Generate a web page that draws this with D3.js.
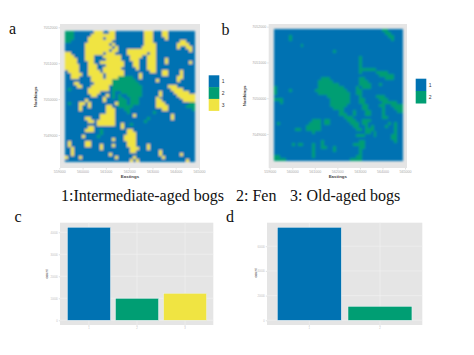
<!DOCTYPE html>
<html>
<head>
<meta charset="utf-8">
<script src="https://cdnjs.cloudflare.com/ajax/libs/d3/7.8.5/d3.min.js"></script>
<style>
  html, body { margin: 0; padding: 0; background: #fff; }
  svg { display: block; }
  .tick text { font-family: "Liberation Sans", sans-serif; }
</style>
</head>
<body>
<div id="chart"></div>
<script>
const width = 474;
const height = 355;

// classes of each raster cell, top row first (1 = intermediate bog, 2 = fen, 3 = old bog)
const mapARows = [
  "22211111113 33113311111 11111333111 33111111111",
  "22211111133 33333311111 11111333111 33111111111",
  "22211111333 33133311111 11111333111 13111111111",
  "22111111333 33333111111 11111333111 11111133111",
  "11111113333 33331311111 11111333311 11111333311",
  "11111113333 33333131111 11113333311 11111311331",
  "11111113333 33331331113 33333333311 11111111131",
  "33111113333 33133311113 33333313311 11111111111",
  "33311113331 11333333111 33331133311 11111111111",
  "33331113331 11133333111 33311133311 13111111111",
  "33331111331 13333333311 13311133311 13111111131",
  "33333111333 11133333311 13311133311 11111111111",
  "33333111333 11333333111 11311133311 11111111111",
  "13333111333 31333333311 11111113311 33111131111",
  "11333311333 33133333311 11131111111 33111131111",
  "11333111133 33133332222 21131111111 11111331111",
  "11111111133 33333222222 22111111131 11111311111",
  "11133111113 33333222222 22211111111 11111111111",
  "11113311133 33331222222 22221111111 11333111111",
  "12111111333 33331222222 22221111111 11133331111",
  "11111111333 31111211222 22221111113 11113333311",
  "11111111133 11131212112 22221111113 11111333333",
  "11111111111 11311212211 22211111131 11111133333",
  "11111113111 11311112221 22211111133 11111113333",
  "12111331311 11111132221 22211111133 31111111122",
  "11111311311 11133112222 21111111133 33111111222",
  "11111311111 11133311122 11111111111 33111111112",
  "11111111111 11133311112 11111111211 11111111111",
  "11111111111 13333311111 13111111111 11131111111",
  "11111113311 13333311111 11111121111 11131111111",
  "11111111331 33333311111 11111211111 11111111111",
  "11111111111 33333311311 21111111111 11111111111",
  "11111111331 11111111311 11111111111 11111111111",
  "11111113331 12111111113 31111111111 11111111111",
  "11111111111 12111111113 33111111111 11111111111",
  "11111131111 21111111133 33111111111 11111111111",
  "11111111111 11111311133 33111111111 11111111111",
  "13111113311 11111111113 33111111111 11111111111",
  "13111113311 13111311113 33111131111 11111111111",
  "11311111111 13111111111 33311131111 11111111111",
  "11311111111 11111111111 33111111113 11111111111",
  "11311111111 11113111111 11111111113 11111131111",
  "31111311111 11111131111 13111111111 31111111111",
  "11111111111 11111111111 31311111111 11111111311",
];

const mapBRows = [
  "11111111111 11111111111 11111111111 11112211111",
  "11111111111 11111111111 11111111111 11111221111",
  "11111211111 11111111111 11111111111 11111122111",
  "11111211111 11111111111 11111111111 11111112111",
  "11111111111 11111111111 11111111111 11111111111",
  "11111111121 11111111111 11111111111 11111111111",
  "11111111111 11111111111 11111111111 11111111111",
  "11111111111 11111111121 11111111111 11111111111",
  "11111111111 11111111111 11111111111 11111111111",
  "11111111111 11111111111 11111112111 11111111111",
  "11111111111 11111111111 11111112111 11111111111",
  "11111111111 11111111111 11111112111 11111111111",
  "11111111111 11111111111 11111112111 11111111111",
  "11111111111 11111111111 11111112222 22111111111",
  "11111111111 11111111111 11111112111 11222211111",
  "11111111111 11111111111 11111111111 11122222111",
  "11111111111 11111222111 11111112211 11111222111",
  "11111111111 11112222211 11111112221 11111111111",
  "11111111111 11112222222 11111112222 11121111111",
  "21111111111 11112222222 22111121222 11111111111",
  "21111211111 11122222222 22211122111 11111111111",
  "21111111111 11112222222 22221122111 11111111111",
  "11111111111 11111112222 22221112111 11222111111",
  "22211111111 11111111222 22221112211 11122211111",
  "11211111111 11111111222 22221112211 11112222211",
  "11111111111 11111111222 22211111221 11122112222",
  "11111111111 11111111122 22111111221 11112111222",
  "11111111111 11111111111 22111211122 11112111122",
  "11111111111 11111111111 22211211122 11112111111",
  "11111111111 11111111111 11222111111 11112211111",
  "11111111111 11222122111 11122211222 11111111111",
  "12111111111 12222122111 11112221221 11111121211",
  "11111111111 22222111111 11111221121 21111211211",
  "11111112211 22222111111 11111122122 21111111211",
  "11111111111 11211111111 11111111122 12111111211",
  "11111111111 11111111111 11111122211 12111112211",
  "11111111111 11111111111 11111111111 11111112211",
  "11111111111 11111211111 11111112211 11111111211",
  "11111121221 11211211111 11111222211 11111111111",
  "11111111111 11211221121 11111112211 11111111111",
  "11111111111 11211111121 11111112111 11111111111",
  "11111111111 11211111111 11111112111 11111111111",
  "22111111111 11211111111 11111122111 11111111111",
  "22221111111 11111111111 11112222111 11111111111",
];

const eastingTicks = [559000, 560000, 561000, 562000, 563000, 564000, 565000];
const northingTicks = [7049000, 7050000, 7051000, 7052000];

const classesA = ["1", "2", "3"];
const classesB = ["1", "2"];
const countsC = [42300, 10000, 12300];
const countsD = [75300, 11300];
const countTicksC = [0, 10000, 20000, 30000, 40000];
const countTicksD = [0, 20000, 40000, 60000];

const captionParts = ["1:Intermediate-aged bogs", "2: Fen", "3: Old-aged bogs"];

const color = d3.scaleOrdinal().domain(["1", "2", "3"]).range(["#0072b2", "#009e73", "#f0e442"]);

const svg = d3.select("#chart").append("svg").attr("width", width).attr("height", height);

// the reference is a blurred scan, maps need the same softness
svg.append("defs").append("filter").attr("id", "soft")
  .append("feGaussianBlur").attr("stdDeviation", 0.9);

function styleAxis(g, size, fill) {
  g.select(".domain").remove();
  g.selectAll(".tick line").attr("stroke", "#c4c4c4").attr("stroke-width", 0.5);
  g.selectAll(".tick text").attr("fill", fill).style("font-size", size + "px");
}

function panel(box) {
  svg.append("rect")
    .attr("x", box.left).attr("y", box.top)
    .attr("width", box.right - box.left).attr("height", box.bottom - box.top)
    .attr("fill", "#e5e5e5");
}

function drawMap(rows, o) {
  panel(o.panel);

  const x = d3.scaleLinear().domain([559000, 565000]).range(o.eastRange);
  const y = d3.scaleLinear().domain([7049000, 7052000]).range(o.northRange);

  const cells = [];
  rows.forEach((row, r) => {
    row.replace(/ /g, "").split("").forEach((v, c) => cells.push({ r, c, v }));
  });

  const col = d3.scaleBand().domain(d3.range(44)).range(o.rasterX);
  const row = d3.scaleBand().domain(d3.range(rows.length)).range(o.rasterY);

  // cells overlap a little so that no seams show through the blur
  svg.append("g").attr("filter", "url(#soft)")
    .selectAll("rect").data(cells).join("rect")
    .attr("x", (d) => col(d.c))
    .attr("y", (d) => row(d.r))
    .attr("width", (d) => col.bandwidth() + (d.c < 43 ? 0.8 : 0))
    .attr("height", (d) => row.bandwidth() + (d.r < rows.length - 1 ? 0.8 : 0))
    .attr("shape-rendering", "crispEdges")
    .attr("fill", (d) => color(d.v));

  svg.append("g")
    .attr("transform", `translate(0,${o.panel.bottom})`)
    .call(d3.axisBottom(x).tickValues(eastingTicks).tickSize(1.5).tickPadding(1).tickFormat(d3.format("d")))
    .call(styleAxis, 3.6, "#a8a8a8");

  svg.append("g")
    .attr("transform", `translate(${o.panel.left},0)`)
    .call(d3.axisLeft(y).tickValues(northingTicks).tickSize(1.5).tickPadding(1).tickFormat(d3.format("d")))
    .call(styleAxis, 3.6, "#a8a8a8");

  svg.append("text")
    .attr("x", (o.panel.left + o.panel.right) / 2).attr("y", o.panel.bottom + 10)
    .attr("text-anchor", "middle")
    .style("font", "bold 4.4px 'Liberation Sans', sans-serif").attr("fill", "#444")
    .text("Eastings");

  svg.append("text")
    .attr("transform", `translate(${o.panel.left - 23},${o.labelY}) rotate(-90)`)
    .attr("text-anchor", "middle")
    .style("font", "bold 4.4px 'Liberation Sans', sans-serif").attr("fill", "#444")
    .text("Northings");

  // legend
  const key = d3.scaleBand().domain(o.classes).range(o.legendY);
  svg.append("g").selectAll("rect").data(o.classes).join("rect")
    .attr("x", o.legendX).attr("y", (d) => key(d))
    .attr("width", 10.6).attr("height", key.bandwidth() + 0.2)
    .attr("fill", (d) => color(d));
  svg.append("g").selectAll("text").data(o.classes).join("text")
    .attr("x", o.legendX + 13).attr("y", (d) => key(d) + key.bandwidth() / 2 + 1.7)
    .style("font", "5px 'Liberation Sans', sans-serif").attr("fill", "#333")
    .text((d) => d);
}

function drawBars(cats, counts, ticks, o) {
  panel(o.panel);

  const x = d3.scaleBand().domain(cats).range(o.xRange).paddingInner(o.pad).paddingOuter(o.pad / 2);
  const y = d3.scaleLinear().domain([0, ticks[1]]).range(o.yRange);

  svg.append("g").selectAll("line").data(ticks).join("line")
    .attr("x1", o.panel.left).attr("x2", o.panel.right)
    .attr("y1", (d) => y(d)).attr("y2", (d) => y(d))
    .attr("stroke", "#f2f2f2").attr("stroke-width", 0.6);
  svg.append("g").selectAll("line").data(cats).join("line")
    .attr("y1", o.panel.top).attr("y2", o.panel.bottom)
    .attr("x1", (d) => x(d) + x.bandwidth() / 2).attr("x2", (d) => x(d) + x.bandwidth() / 2)
    .attr("stroke", "#f2f2f2").attr("stroke-width", 0.6);

  svg.append("g").selectAll("rect").data(cats).join("rect")
    .attr("x", (d) => x(d))
    .attr("y", (d, i) => y(counts[i]))
    .attr("width", x.bandwidth())
    .attr("height", (d, i) => y(0) - y(counts[i]))
    .attr("fill", (d) => color(d))
    .attr("stroke", "#e9f1f6").attr("stroke-width", 0.5);

  svg.append("g")
    .attr("transform", `translate(0,${o.panel.bottom})`)
    .call(d3.axisBottom(x).tickSize(1.2).tickPadding(1))
    .call(styleAxis, 2.6, "#c0c0c0");

  svg.append("g")
    .attr("transform", `translate(${o.panel.left},0)`)
    .call(d3.axisLeft(y).tickValues(ticks).tickSize(1.2).tickPadding(1).tickFormat(d3.format("d")))
    .call(styleAxis, 2.6, "#c0c0c0");

  svg.append("text")
    .attr("transform", `translate(${o.labelX},${o.labelY}) rotate(-90)`)
    .attr("text-anchor", "middle")
    .style("font", "bold 3.4px 'Liberation Sans', sans-serif").attr("fill", "#777")
    .text("count");
}

drawMap(mapARows, {
  panel: { left: 60, right: 200, top: 24, bottom: 168 },
  eastRange: [59.3, 199],
  northRange: [135, 27.3],
  rasterX: [64.7, 194.7],
  rasterY: [30.7, 162.3],
  classes: classesA,
  legendX: 208.7,
  legendY: [75.3, 110.7],
  labelY: 97,
});

drawMap(mapBRows, {
  panel: { left: 268.7, right: 407, top: 24, bottom: 168 },
  eastRange: [269.7, 405],
  northRange: [134, 26.7],
  rasterX: [274.3, 402.7],
  rasterY: [28.7, 161.3],
  classes: classesB,
  legendX: 415.7,
  legendY: [78.7, 103.3],
  labelY: 96,
});

drawBars(classesA, countsC, countTicksC, {
  panel: { left: 60, right: 213.3, top: 222.7, bottom: 325 },
  xRange: [64.9, 209.1],
  pad: 0.104,
  yRange: [320.3, 298.3],
  labelX: 47.5,
  labelY: 274,
});

drawBars(classesB, countsD, countTicksD, {
  panel: { left: 267, right: 422.3, top: 222.7, bottom: 325 },
  xRange: [274, 415.3],
  pad: 0.095,
  yRange: [320.3, 295.6],
  labelX: 257,
  labelY: 273,
});

// panel letters
const letters = [["a", 9, 34], ["b", 221.5, 35], ["c", 14.5, 222], ["d", 226, 222]];
svg.append("g").selectAll("text").data(letters).join("text")
  .attr("x", (d) => d[1]).attr("y", (d) => d[2])
  .style("font", "16px 'Liberation Serif', serif").attr("fill", "#111")
  .text((d) => d[0]);

// caption under the maps
const captionX = [61, 236, 290];
svg.append("g").selectAll("text").data(captionParts).join("text")
  .attr("x", (d, i) => captionX[i]).attr("y", 201)
  .style("font", "16px 'Liberation Serif', serif").attr("fill", "#111")
  .text((d) => d);
</script>
</body>
</html>
